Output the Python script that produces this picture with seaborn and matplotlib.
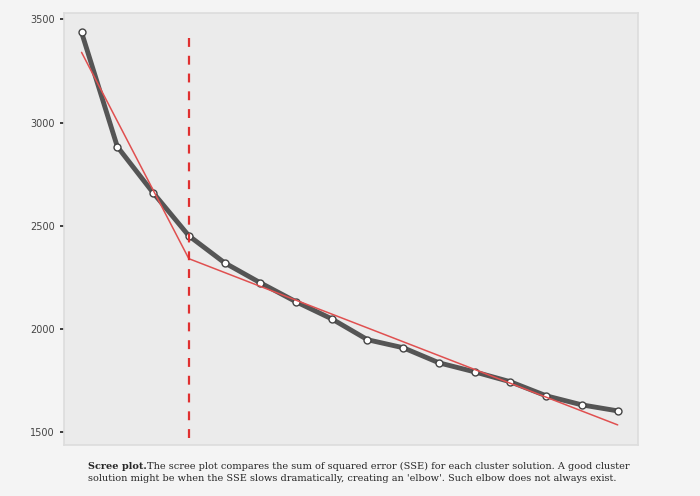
import matplotlib
matplotlib.use("Agg")
import matplotlib.pyplot as plt
import seaborn as sns
import pandas as pd

clusters = list(range(1, 17))
sse = [3437, 2883, 2660, 2451, 2320, 2223, 2131, 2048, 1947, 1908, 1835, 1791, 1743, 1675, 1631, 1602]
fit1_x = [1, 4]; fit1_y = [3340, 2340]
fit2_x = [4, 16]; fit2_y = [2340, 1534]
elbow_x = 4
yticks = [1500, 2000, 2500, 3000, 3500]

sns.set_theme(style="white")
plt.rcParams['font.family'] = ['DejaVu Sans']
fig = plt.figure(figsize=(7, 4.96), dpi=100)
fig.patch.set_facecolor("#f4f4f4")
ax = fig.add_axes([0.091, 0.103, 0.82, 0.87])
ax.set_facecolor("#ebebeb")
df = pd.DataFrame({"k": clusters, "sse": sse})
sns.lineplot(data=df, x="k", y="sse", ax=ax, color="#555555", lw=3.5,
             marker="o", markersize=5, markerfacecolor="white",
             markeredgecolor="#444444", markeredgewidth=1)
sns.lineplot(x=fit1_x, y=fit1_y, ax=ax, color="#e05050", lw=1.1)
sns.lineplot(x=fit2_x, y=fit2_y, ax=ax, color="#e05050", lw=1.1)
ax.plot([elbow_x, elbow_x], [1470, 3450], color="#e03030", ls=(0, (4, 4)), lw=1.6)
ax.set_xlim(0.5, 16.56)
ax.set_ylim(1437, 3529)
ax.set_yticks(yticks)
ax.set_yticklabels([str(t) for t in yticks], fontsize=7, color="#444444")
ax.tick_params(axis="y", length=3, left=True)
ax.set_xticks([])
ax.set_xlabel(""); ax.set_ylabel("")
for s in ax.spines.values():
    s.set_color("#dddddd")
fig.text(0.125, 0.055, "Scree plot.", fontsize=7, fontweight="bold", family="serif")
fig.text(0.21, 0.055, "The scree plot compares the sum of squared error (SSE) for each cluster solution. A good cluster",
         fontsize=7, family="serif")
fig.text(0.125, 0.03, "solution might be when the SSE slows dramatically, creating an 'elbow'. Such elbow does not always exist.",
         fontsize=7, family="serif")
fig.savefig("out.png", dpi=100, facecolor=fig.get_facecolor())
